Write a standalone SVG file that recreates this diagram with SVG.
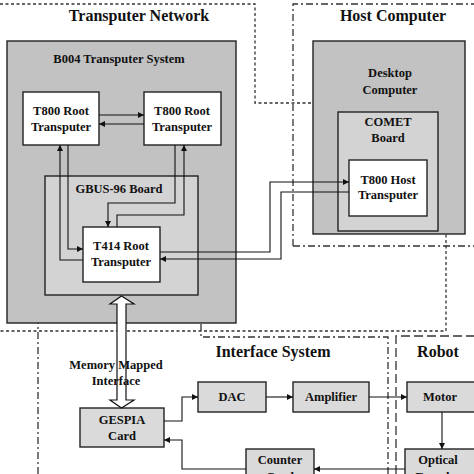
<svg xmlns="http://www.w3.org/2000/svg" width="474" height="474" viewBox="0 0 474 474">
<style>
.t{font-family:"Liberation Serif","Times New Roman",serif;font-weight:bold;fill:#111;text-anchor:middle}
.title{font-size:16px}
.lbl{font-size:12.5px}
.outer{fill:#c2c2c2;stroke:#222;stroke-width:1.4}
.mid{fill:#d3d3d3;stroke:#222;stroke-width:1.4}
.white{fill:#fff;stroke:#222;stroke-width:1.4}
.lite{fill:#dadada;stroke:#222;stroke-width:1.4}
.c{fill:none;stroke:#111;stroke-width:1.1}
.dot{fill:none;stroke:#333;stroke-width:1.3;stroke-dasharray:3,2.5}
.dd{fill:none;stroke:#333;stroke-width:1.3;stroke-dasharray:7,3,2,3}
.dash{fill:none;stroke:#333;stroke-width:1.3;stroke-dasharray:9,4}
</style>
<defs>
<marker id="ah" viewBox="0 0 10 10" refX="10" refY="5" markerWidth="6" markerHeight="6" markerUnits="userSpaceOnUse" orient="auto">
<path d="M0,0 L10,5 L0,10 z" fill="#111"/>
</marker>
</defs>
<rect width="474" height="474" fill="#fff"/>

<g id="boundaries">
<path class="dot" d="M0,4 H255 V103 H446 V331 H0"/>
<path class="dd" d="M293,246 V4 H474 M293,246 H474"/>
<path class="dd" d="M38,474 V173 H201 V337 H388 V474"/>
<path class="dash" d="M396,474 V336 H474"/>
</g>

<g id="titles">
<text class="t title" x="139" y="21">Transputer Network</text>
<text class="t title" x="393" y="21">Host Computer</text>
<text class="t title" x="273" y="357">Interface System</text>
<text class="t title" x="438" y="357">Robot</text>
</g>

<g id="b004">
<rect class="outer" x="7" y="41" width="229" height="282"/>
<text class="t lbl" x="119" y="63">B004 Transputer System</text>
</g>
<g id="gbus">
<rect class="mid" x="45" y="176" width="153" height="119"/>
<text class="t lbl" x="119" y="193">GBUS-96 Board</text>
</g>
<g id="t800-left">
<rect class="white" x="23" y="92" width="76" height="53"/>
<text class="t lbl" x="61" y="115">T800 Root</text>
<text class="t lbl" x="61" y="131">Transputer</text>
</g>
<g id="t800-right">
<rect class="white" x="144" y="92" width="77" height="53"/>
<text class="t lbl" x="182" y="115">T800 Root</text>
<text class="t lbl" x="182" y="131">Transputer</text>
</g>
<g id="t414">
<rect class="white" x="83" y="227" width="77" height="55"/>
<text class="t lbl" x="121" y="250">T414 Root</text>
<text class="t lbl" x="121" y="266">Transputer</text>
</g>

<g id="desktop">
<rect class="outer" x="313" y="41" width="152" height="193"/>
<text class="t lbl" x="390" y="77">Desktop</text>
<text class="t lbl" x="390" y="94">Computer</text>
</g>
<g id="comet">
<rect class="mid" x="338" y="112" width="100" height="119"/>
<text class="t lbl" x="388" y="126">COMET</text>
<text class="t lbl" x="388" y="142">Board</text>
</g>
<g id="t800-host">
<rect class="white" x="349" y="160" width="78" height="56"/>
<text class="t lbl" x="388" y="184">T800 Host</text>
<text class="t lbl" x="388" y="199">Transputer</text>
</g>

<g id="gespia">
<rect class="lite" x="80" y="408" width="84" height="39"/>
<text class="t lbl" x="122" y="424">GESPIA</text>
<text class="t lbl" x="122" y="440">Card</text>
</g>
<g id="dac">
<rect class="lite" x="198" y="382" width="68" height="30"/>
<text class="t lbl" x="232" y="401">DAC</text>
</g>
<g id="amplifier">
<rect class="lite" x="293" y="382" width="76" height="30"/>
<text class="t lbl" x="331" y="401">Amplifier</text>
</g>
<g id="motor">
<rect class="lite" x="407" y="382" width="70" height="30"/>
<text class="t lbl" x="440" y="401">Motor</text>
</g>
<g id="encoder">
<rect class="lite" x="405" y="449" width="72" height="40"/>
<text class="t lbl" x="438" y="464">Optical</text>
<text class="t lbl" x="438" y="481">Encoder</text>
</g>
<g id="counter">
<rect class="lite" x="246" y="449" width="68" height="40"/>
<text class="t lbl" x="280" y="464">Counter</text>
<text class="t lbl" x="280" y="481">Card</text>
</g>

<g id="connectors">
<path class="c" d="M99,115 H144" marker-end="url(#ah)"/>
<path class="c" d="M144,124 H99" marker-end="url(#ah)"/>
<path class="c" d="M83,260 H60 V145" marker-end="url(#ah)"/>
<path class="c" d="M68,145 V249 H83" marker-end="url(#ah)"/>
<path class="c" d="M175,145 V203 H108 V227" marker-end="url(#ah)"/>
<path class="c" d="M117,227 V215 H184 V145" marker-end="url(#ah)"/>
<path class="c" d="M160,252 H270 V182 H349" marker-end="url(#ah)"/>
<path class="c" d="M349,192 H281 V259 H160" marker-end="url(#ah)"/>
<path class="c" d="M164,421 H182 V397 H198" marker-end="url(#ah)"/>
<path class="c" d="M266,397 H293" marker-end="url(#ah)"/>
<path class="c" d="M369,397 H407" marker-end="url(#ah)"/>
<path class="c" d="M442,412 V449" marker-end="url(#ah)"/>
<path class="c" d="M405,469 H314" marker-end="url(#ah)"/>
<path class="c" d="M246,469 H182 V440 H164" marker-end="url(#ah)"/>
<path fill="#fff" stroke="#111" stroke-width="1.2" d="M121.5,296 L134,304 H126 V400 H134 L121.5,408 L110,400 H117 V304 H110 Z"/>
</g>
<g id="mm-label">
<text class="t lbl" x="116" y="369">Memory Mapped</text>
<text class="t lbl" x="116" y="385">Interface</text>
</g>
</svg>
